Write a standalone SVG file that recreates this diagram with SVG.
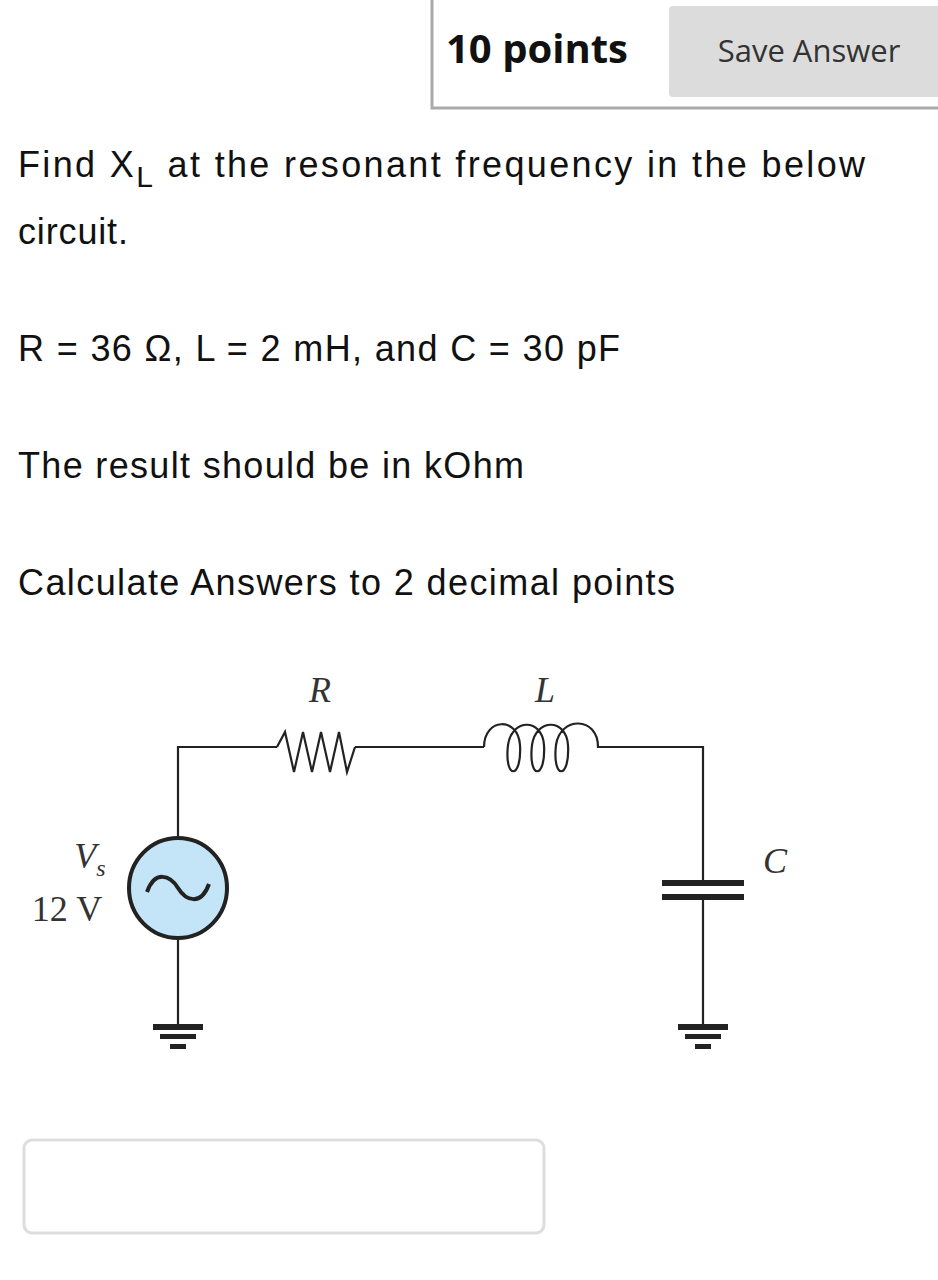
<svg xmlns="http://www.w3.org/2000/svg" width="938" height="1280" viewBox="0 0 938 1280">
<style>
.q{font-family:"Liberation Sans",Arial,sans-serif;font-size:36px;fill:#111}
.w{fill:none;stroke:#222;stroke-width:2.2}
.lb{font-family:"Liberation Serif","Times New Roman",serif;font-size:36px;fill:#333}
.g{fill:#222}
</style>
<rect width="938" height="1280" fill="#fff"/>
<g id="header">
<path d="M432 0 V108 H938" fill="none" stroke="#aaa" stroke-width="3"/>
<text x="446" y="63" font-family="Open Sans,sans-serif" font-weight="bold" font-size="40" fill="#111">10 points</text>
<rect x="669" y="6" width="280" height="91" rx="4" fill="#dcdcdc"/>
<text x="809" y="62" text-anchor="middle" font-family="Open Sans,sans-serif" font-size="31" fill="#333">Save Answer</text>
</g>
<g id="question">
<text class="q" x="18" y="177" textLength="847" lengthAdjust="spacing">Find X<tspan font-size="30" dy="10">L</tspan><tspan dy="-10"> at the resonant frequency in the below</tspan></text>
<text class="q" x="18" y="244" textLength="110" lengthAdjust="spacing">circuit.</text>
<text class="q" x="18" y="361" textLength="602" lengthAdjust="spacing">R = 36 Ω, L = 2 mH, and C = 30 pF</text>
<text class="q" x="18" y="478" textLength="506" lengthAdjust="spacing">The result should be in kOhm</text>
<text class="q" x="18" y="595" textLength="657" lengthAdjust="spacing">Calculate Answers to 2 decimal points</text>
</g>
<g id="connectors">
<path class="w" d="M178 838 V747 H277"/>
<path class="w" d="M355 747 H484"/>
<path class="w" d="M603 747 H703 V883"/>
<path class="w" d="M703 897 V1025"/>
<path class="w" d="M178 938 V1025"/>
</g>
<g id="resistor"><path class="w" stroke-width="3" d="M277 747 L285 732 L294 772 L303 732 L312 772 L321 732 L330 772 L339 732 L347 772 L355 747"/>
<text class="lb" x="320" y="702" text-anchor="middle" font-style="italic">R</text></g>
<g id="inductor"><path class="w" stroke-width="3" d="M484 747 C484 718 518 716 520 745 C522 780 504 780 508 745 C512 718 542 718 544 745 C546 780 528 780 532 745 C536 718 566 718 568 745 C570 780 552 780 556 745 C560 716 598 716 598 747 L603 747"/>
<text class="lb" x="545" y="702" text-anchor="middle" font-style="italic">L</text></g>
<g id="capacitor"><rect class="g" x="662" y="880" width="82" height="6"/><rect class="g" x="662" y="894" width="82" height="6"/>
<text class="lb" x="775" y="873" text-anchor="middle" font-style="italic">C</text></g>
<g id="source"><ellipse cx="178" cy="888" rx="49" ry="50" fill="#c4e4f7" stroke="#222" stroke-width="4"/>
<path d="M147 892 C155 870 170 875 178 888 C186 901 201 906 209 884" fill="none" stroke="#222" stroke-width="4"/>
<text class="lb" x="90" y="868" text-anchor="middle" font-style="italic">V<tspan font-size="24" dy="8">s</tspan></text>
<text class="lb" x="67" y="921" text-anchor="middle">12 V</text></g>
<g id="ground1"><rect class="g" x="153" y="1024" width="50" height="6"/><rect class="g" x="160" y="1034" width="36" height="5"/><rect class="g" x="170" y="1044" width="16" height="5"/></g>
<g id="ground2"><rect class="g" x="678" y="1024" width="50" height="6"/><rect class="g" x="685" y="1034" width="36" height="5"/><rect class="g" x="695" y="1044" width="16" height="5"/></g>
<g id="answer"><rect x="24" y="1140" width="520" height="93" rx="8" fill="#fff" stroke="#ddd" stroke-width="3"/></g>
</svg>
